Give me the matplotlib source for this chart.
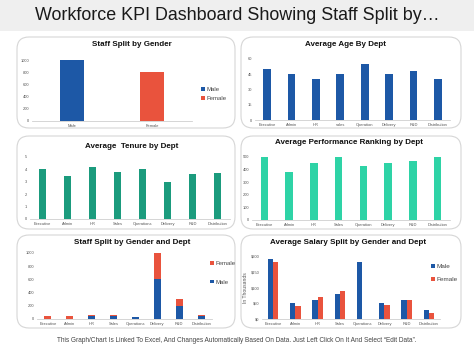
import matplotlib
matplotlib.use("Agg")
import matplotlib.pyplot as plt
from matplotlib.patches import FancyBboxPatch, Rectangle
import numpy as np

plt.rcParams['font.family'] = ['Liberation Sans', 'DejaVu Sans']

BLUE = '#1d58a6'
RED = '#e9533d'
TEAL = '#1b9b7d'
MINT = '#2ed3a6'
TICK = '#555555'

# data
genders = ['Male', 'Female']
gender_counts = [1000, 800]

age_depts = ['Executive', 'Admin', 'HR', 'sales', 'Operation', 'Delivery', 'R&D', 'Distribution']
avg_age = [50, 45, 40, 45, 55, 45, 48, 40]

tenure_depts = ['Executive', 'Admin', 'HR', 'Sales', 'Operations', 'Delivery', 'R&D', 'Distribution']
avg_tenure = [4.0, 3.5, 4.2, 3.8, 4.0, 3.0, 3.6, 3.7]

perf_depts = ['Executive', 'Admin', 'HR', 'Sales', 'Operation', 'Delivery', 'R&D', 'Distribution']
avg_perf = [500, 380, 450, 500, 430, 450, 470, 500]

split_depts = ['Executive', 'Admin', 'HR', 'Sales', 'Operations', 'Delivery', 'R&D', 'Distribution']
male_staff = [0, 0, 40, 40, 30, 600, 200, 50]
female_staff = [40, 40, 20, 20, 0, 400, 100, 10]

salary_depts = ['Executive', 'Admin', 'HR', 'Sales', 'Operations', 'Delivery', 'R&D', 'Distribution']
male_salary = [190, 50, 60, 80, 180, 50, 60, 30]
female_salary = [180, 40, 70, 90, 0, 45, 60, 20]

W, H = 474, 351
fig = plt.figure(figsize=(W / 100, H / 100), dpi=100)
fig.patch.set_facecolor('white')

# background layer in pixel coordinates
bg = fig.add_axes([0, 0, 1, 1], zorder=0)
bg.set_xlim(0, W)
bg.set_ylim(H, 0)
bg.axis('off')
bg.add_patch(Rectangle((0, 0), W, 31, facecolor='#efefef', edgecolor='none'))
bg.text(W / 2, 16, 'Workforce KPI Dashboard Showing Staff Split by\u2026',
        ha='center', va='center', fontsize=12.9, color='#1a1a1a')
bg.text(W / 2, 340, 'This Graph/Chart Is Linked To Excel, And Changes Automatically Based On Data. '
        'Just Left Click On It And Select \u201cEdit Data\u201d.',
        ha='center', va='center', fontsize=4.7, color='#444444')

boxes = [(17, 37, 218, 91), (241, 37, 220, 91),
         (17, 136, 218, 93), (241, 136, 220, 93),
         (17, 235, 218, 93), (241, 235, 220, 93)]
for x, y, w, h in boxes:
    bg.add_patch(FancyBboxPatch((x, y), w, h, boxstyle='round,pad=0,rounding_size=12',
                                facecolor='white', edgecolor='#d6d6d6', linewidth=0.8))


def make_ax(x0, x1, ytop, ybot):
    ax = fig.add_axes([x0 / W, 1 - ybot / H, (x1 - x0) / W, (ybot - ytop) / H], zorder=2)
    ax.patch.set_alpha(0)
    for s in ['top', 'right', 'left']:
        ax.spines[s].set_visible(False)
    ax.spines['bottom'].set_color('#cfcfcf')
    ax.spines['bottom'].set_linewidth(0.6)
    ax.tick_params(axis='both', length=0, labelsize=2.9, labelcolor=TICK, pad=2)
    return ax


def title(x, y, text):
    bg.text(x, y, text, ha='center', va='center', fontsize=5.8, fontweight='bold', color='#111111')


# staff split by gender
ax1 = make_ax(32, 192, 60, 121)
b1 = ax1.bar(np.arange(2), gender_counts, width=0.31, color=[BLUE, RED])
ax1.set_xlim(-0.5, 1.5)
ax1.set_ylim(0, 1000)
ax1.set_yticks(range(0, 1001, 200))
ax1.set_xticks(np.arange(2))
ax1.set_xticklabels(genders)
title(132, 44, 'Staff Split by Gender')
ax1.legend(b1, genders, loc='center left', bbox_to_anchor=(196 / W, 1 - 94 / H),
           bbox_transform=fig.transFigure, frameon=False, fontsize=4.3,
           handlelength=0.6, handleheight=0.6, handletextpad=0.3, labelspacing=0.6,
           labelcolor='#444444')

# average age
ax2 = make_ax(255, 450, 59, 120)
ax2.bar(np.arange(len(age_depts)), avg_age, width=0.32, color=BLUE)
ax2.set_xlim(-0.5, len(age_depts) - 0.5)
ax2.set_ylim(0, 60)
ax2.set_yticks(range(0, 61, 15))
ax2.set_xticks(np.arange(len(age_depts)))
ax2.set_xticklabels(age_depts)
title(346, 45, 'Average Age By Dept')

# average tenure
ax3 = make_ax(30, 230, 157, 219)
ax3.bar(np.arange(len(tenure_depts)), avg_tenure, width=0.3, color=TEAL)
ax3.set_xlim(-0.5, len(tenure_depts) - 0.5)
ax3.set_ylim(0, 5)
ax3.set_yticks(range(0, 6))
ax3.set_xticks(np.arange(len(tenure_depts)))
ax3.set_xticklabels(tenure_depts)
title(132, 146, 'Average  Tenure by Dept')

# average performance
ax4 = make_ax(252, 450, 157, 220)
ax4.bar(np.arange(len(perf_depts)), avg_perf, width=0.3, color=MINT)
ax4.set_xlim(-0.5, len(perf_depts) - 0.5)
ax4.set_ylim(0, 500)
ax4.set_yticks(range(0, 501, 100))
ax4.set_xticks(np.arange(len(perf_depts)))
ax4.set_xticklabels(perf_depts)
title(349, 142, 'Average Performance Ranking by Dept')

# staff split by gender and dept (stacked)
ax5 = make_ax(37, 212, 253, 319)
xs = np.arange(len(split_depts))
bm = ax5.bar(xs, male_staff, width=0.32, color=BLUE)
bf = ax5.bar(xs, female_staff, width=0.32, bottom=male_staff, color=RED)
ax5.set_xlim(-0.5, len(split_depts) - 0.5)
ax5.set_ylim(0, 1000)
ax5.set_yticks(range(0, 1001, 200))
ax5.set_xticks(xs)
ax5.set_xticklabels(split_depts)
title(132, 243, 'Staff Split by Gender and Dept')
ax5.legend([bf, bm], ['Female', 'Male'], loc='center left', bbox_to_anchor=(205 / W, 1 - 273 / H),
           bbox_transform=fig.transFigure, frameon=False, fontsize=4.3,
           handlelength=0.6, handleheight=0.6, handletextpad=0.3, labelspacing=2.2,
           labelcolor='#444444')

# average salary (grouped)
ax6 = make_ax(262, 440, 256, 319)
xs = np.arange(len(salary_depts))
sm = ax6.bar(xs - 0.12, male_salary, width=0.24, color=BLUE)
sf = ax6.bar(xs + 0.12, female_salary, width=0.24, color=RED)
ax6.set_xlim(-0.5, len(salary_depts) - 0.5)
ax6.set_ylim(0, 200)
ax6.set_yticks(range(0, 201, 50))
ax6.set_yticklabels(['$%d' % v for v in range(0, 201, 50)])
ax6.set_xticks(xs)
ax6.set_xticklabels(salary_depts)
ax6.set_ylabel('In Thousands', fontsize=3.6, color=TICK, labelpad=2)
title(348, 242, 'Average Salary Split by Gender and Dept')
ax6.legend([sm, sf], ['Male', 'Female'], loc='center left', bbox_to_anchor=(425 / W, 1 - 273 / H),
           bbox_transform=fig.transFigure, frameon=False, fontsize=4.6,
           handlelength=0.6, handleheight=0.6, handletextpad=0.3, labelspacing=1.3,
           labelcolor='#444444')

fig.savefig('out.png', dpi=100)
